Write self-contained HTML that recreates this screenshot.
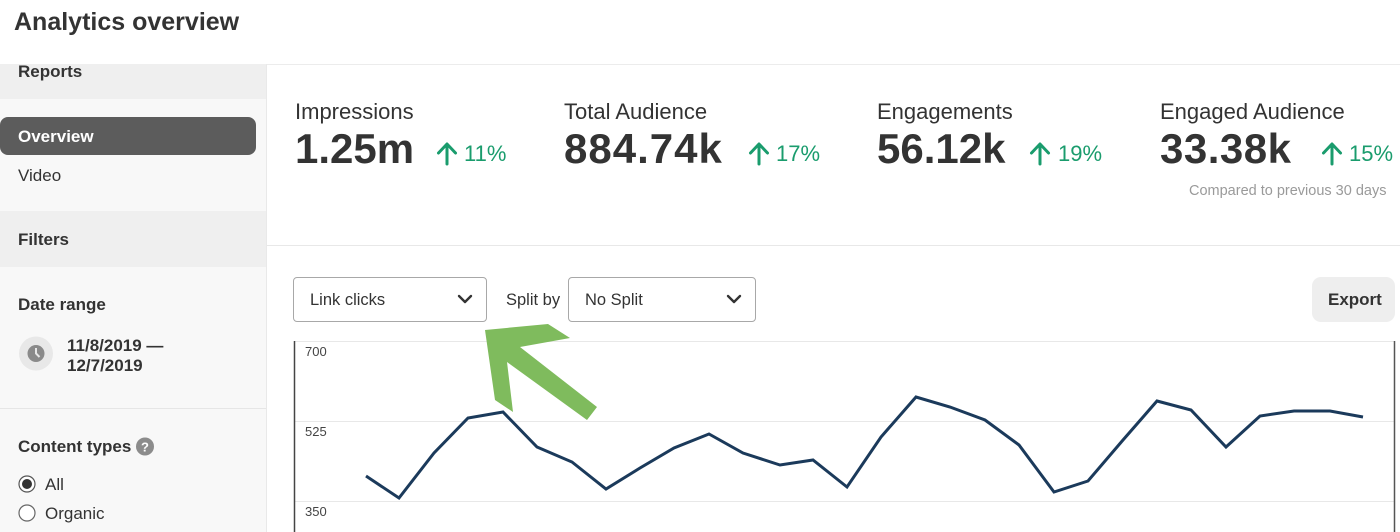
<!DOCTYPE html>
<html>
<head>
<meta charset="utf-8">
<style>
  html,body{margin:0;padding:0;}
  body{width:1400px;height:532px;position:relative;overflow:hidden;background:#fff;font-family:"Liberation Sans",Arial,sans-serif;color:#333;}
  .a{position:absolute;white-space:nowrap;}
  .b{font-weight:bold;}
  .s17{font-size:17px;line-height:20px;}
</style>
</head>
<body>
<!-- title -->
<div class="a b" style="left:14px;top:7px;font-size:25px;line-height:30px;color:#333;">Analytics overview</div>

<!-- sidebar backgrounds -->
<div class="a" style="left:0;top:64px;width:266px;height:468px;background:#f8f8f8;border-right:1px solid #e9e9e9;"></div>
<div class="a" style="left:0;top:64px;width:266px;height:35px;background:#efefef;"></div>
<div class="a" style="left:0;top:211px;width:266px;height:56px;background:#efefef;"></div>
<div class="a" style="left:0;top:408px;width:266px;height:1px;background:#e6e6e6;"></div>

<!-- separators -->
<div class="a" style="left:267px;top:64px;width:1133px;height:1px;background:#ececec;"></div>
<div class="a" style="left:267px;top:245px;width:1133px;height:1px;background:#e8e8e8;"></div>

<!-- sidebar content -->
<div class="a b s17" style="left:18px;top:62px;">Reports</div>
<div class="a" style="left:0;top:117px;width:256px;height:38px;background:#5c5c5c;border-radius:8px;"></div>
<div class="a b s17" style="left:18px;top:127px;color:#fff;">Overview</div>
<div class="a s17" style="left:18px;top:166px;">Video</div>
<div class="a b s17" style="left:18px;top:230px;">Filters</div>
<div class="a b s17" style="left:18px;top:295px;">Date range</div>
<svg class="a" style="left:18px;top:336px;" width="36" height="36" viewBox="0 0 36 36">
  <circle cx="18" cy="17.5" r="17" fill="#e8e8e8"/>
  <circle cx="18" cy="17.5" r="8.5" fill="#8a8a8a"/>
  <path d="M18 12 L18 17.5 L21.5 21" stroke="#e8e8e8" stroke-width="2" fill="none"/>
</svg>
<div class="a b s17" style="left:67px;top:336px;">11/8/2019 —</div>
<div class="a b s17" style="left:67px;top:356px;">12/7/2019</div>
<div class="a b s17" style="left:18px;top:437px;">Content types</div>
<svg class="a" style="left:135px;top:437px;" width="20" height="20" viewBox="0 0 20 20">
  <circle cx="10" cy="9.5" r="9" fill="#8c8c8c"/>
  <text x="10" y="14.5" text-anchor="middle" font-family="Liberation Sans" font-weight="bold" font-size="13" fill="#fff">?</text>
</svg>
<svg class="a" style="left:17px;top:474px;" width="20" height="50" viewBox="0 0 20 50">
  <circle cx="10" cy="10" r="8" fill="#fff" stroke="#555" stroke-width="1.2"/>
  <circle cx="10" cy="10" r="5" fill="#333"/>
  <circle cx="10" cy="39" r="8" fill="#fff" stroke="#666" stroke-width="1.2"/>
</svg>
<div class="a s17" style="left:45px;top:475px;">All</div>
<div class="a s17" style="left:45px;top:504px;">Organic</div>

<!-- metrics -->
<div class="a" style="left:295px;top:99px;font-size:22px;line-height:26px;">Impressions</div>
<div class="a b" style="left:295px;top:125px;font-size:42px;line-height:48px;">1.25m</div>
<div class="a" style="left:564px;top:99px;font-size:22px;line-height:26px;">Total Audience</div>
<div class="a b" style="left:564px;top:125px;font-size:42px;line-height:48px;letter-spacing:1px;">884.74k</div>
<div class="a" style="left:877px;top:99px;font-size:22px;line-height:26px;">Engagements</div>
<div class="a b" style="left:877px;top:125px;font-size:42px;line-height:48px;">56.12k</div>
<div class="a" style="left:1160px;top:99px;font-size:22px;line-height:26px;">Engaged Audience</div>
<div class="a b" style="left:1160px;top:125px;font-size:42px;line-height:48px;letter-spacing:0.5px;">33.38k</div>

<svg class="a" style="left:0;top:0;" width="1400" height="200">
  <g stroke="#1a9c6d" stroke-width="3" fill="none" stroke-linecap="round" stroke-linejoin="round">
    <path d="M447 164 L447 145 M438.5 153 L447 144 L455.5 153"/>
    <path d="M759 164 L759 145 M750.5 153 L759 144 L767.5 153"/>
    <path d="M1040 164 L1040 145 M1031.5 153 L1040 144 L1048.5 153"/>
    <path d="M1332 164 L1332 145 M1323.5 153 L1332 144 L1340.5 153"/>
  </g>
</svg>
<div class="a" style="left:464px;top:141px;font-size:22px;line-height:26px;color:#1a9c6d;">11%</div>
<div class="a" style="left:776px;top:141px;font-size:22px;line-height:26px;color:#1a9c6d;">17%</div>
<div class="a" style="left:1058px;top:141px;font-size:22px;line-height:26px;color:#1a9c6d;">19%</div>
<div class="a" style="left:1349px;top:141px;font-size:22px;line-height:26px;color:#1a9c6d;">15%</div>
<div class="a" style="left:1189px;top:183px;font-size:14.5px;line-height:17px;color:#9a9a9a;">Compared to previous 30 days</div>

<!-- controls -->
<div class="a" style="left:293px;top:277px;width:192px;height:43px;border:1px solid #a8a8a8;border-radius:4px;"></div>
<div class="a" style="left:310px;top:290px;font-size:16.5px;line-height:20px;">Link clicks</div>
<div class="a" style="left:506px;top:290px;font-size:16.5px;line-height:20px;">Split by</div>
<div class="a" style="left:568px;top:277px;width:186px;height:43px;border:1px solid #a8a8a8;border-radius:4px;"></div>
<div class="a" style="left:585px;top:290px;font-size:16.5px;line-height:20px;">No Split</div>
<svg class="a" style="left:0;top:0;" width="1400" height="330">
  <path d="M459 296 L465 302 L471 296" stroke="#333" stroke-width="2.4" fill="none" stroke-linecap="round" stroke-linejoin="round"/>
  <path d="M728 296 L734 302 L740 296" stroke="#333" stroke-width="2.4" fill="none" stroke-linecap="round" stroke-linejoin="round"/>
</svg>
<div class="a" style="left:1312px;top:277px;width:83px;height:45px;background:#eeeeee;border-radius:9px;"></div>
<div class="a b s17" style="left:1328px;top:290px;">Export</div>

<!-- chart -->
<svg class="a" style="left:0;top:0;" width="1400" height="532">
  <g stroke="#e8e8e8" stroke-width="1">
    <line x1="294" y1="341.5" x2="1394" y2="341.5"/>
    <line x1="294" y1="421.5" x2="1394" y2="421.5"/>
    <line x1="294" y1="501.5" x2="1394" y2="501.5"/>
  </g>
  <line x1="294.5" y1="341" x2="294.5" y2="532" stroke="#444" stroke-width="1.5"/>
  <line x1="1394.5" y1="341" x2="1394.5" y2="532" stroke="#555" stroke-width="1.5"/>
  <g font-family="Liberation Sans" font-size="13" fill="#444">
    <text x="305" y="356">700</text>
    <text x="305" y="436">525</text>
    <text x="305" y="516">350</text>
  </g>
  <polyline fill="none" stroke="#1b3a5b" stroke-width="3" stroke-linejoin="miter" stroke-miterlimit="4"
    points="366,476 399,498 434,453 468,418 503,412 537,447 572,462 606,489 640,468 674,448 709,434 743,453 780,465 813,460 847,487 881,437 916,397 950,407 985,420 1019,445 1054,492 1088,481 1123,440 1157,401 1191,410 1226,447 1260,416 1294,411 1330,411 1363,417"/>
  <polygon fill="#7fbb5d" points="485,330 548,324 570,338 520,347 597,407 587,420 507,362 513,412 495,400"/>
</svg>
</body>
</html>
